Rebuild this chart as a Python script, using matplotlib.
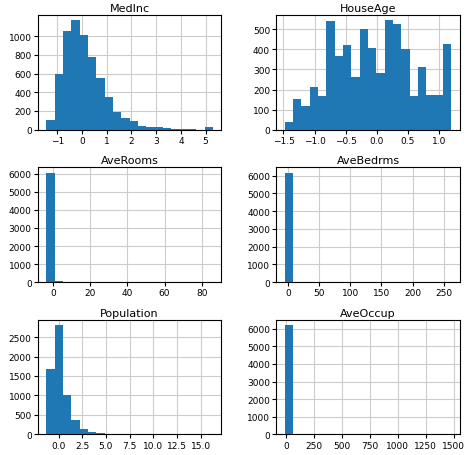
import numpy as np
import matplotlib.pyplot as plt

titles = ["MedInc", "HouseAge", "AveRooms", "AveBedrms", "Population", "AveOccup"]
ranges = [(-1.45, 5.3), (-1.48, 1.2), (-3.5, 86), (-5, 262), (-1.3, 16.3), (-10, 1480)]
counts = [
    [100, 600, 1060, 1170, 1010, 780, 550, 350, 190, 120, 95, 35, 25, 30, 15, 10, 8, 5, 0, 25],
    [40, 155, 120, 215, 170, 540, 365, 420, 265, 500, 405, 280, 545, 525, 400, 170, 310, 175, 175, 425],
    [6060, 80, 20, 10, 6, 5, 3, 2, 2, 1, 1, 0, 0, 0, 0, 0, 0, 0, 0, 2],
    [6150, 20, 8, 5, 3, 2, 1, 1, 0, 0, 2, 0, 0, 0, 0, 0, 0, 0, 0, 1],
    [1670, 2800, 1020, 380, 150, 70, 30, 15, 15, 10, 5, 3, 2, 1, 1, 0, 0, 0, 0, 1],
    [6190, 1, 0, 0, 0, 0, 0, 0, 0, 0, 0, 0, 0, 0, 0, 0, 0, 0, 0, 1],
]
xticks = [
    [-1, 0, 1, 2, 3, 4, 5],
    [-1.5, -1.0, -0.5, 0.0, 0.5, 1.0],
    [0, 20, 40, 60, 80],
    [0, 50, 100, 150, 200, 250],
    [0.0, 2.5, 5.0, 7.5, 10.0, 12.5, 15.0],
    [0, 250, 500, 750, 1000, 1250, 1500],
]
ysteps = [200, 100, 1000, 1000, 500, 1000]

plt.rcParams["font.size"] = 6.5
fig, axes = plt.subplots(3, 2, figsize=(4.74, 4.56), dpi=100)
for ax, title, rng, cnt, xt, ys in zip(axes.flat, titles, ranges, counts, xticks, ysteps):
    edges = np.linspace(rng[0], rng[1], len(cnt) + 1)
    ax.hist(edges[:-1], bins=edges, weights=cnt, color="#1f77b4")
    ax.set_title(title, fontsize=8, pad=3)
    ax.set_xticks(xt)
    ax.set_yticks(np.arange(0, max(cnt) + 1, ys))
    ax.grid(True, color="#cccccc", linewidth=0.8)
    ax.set_axisbelow(True)
    ax.tick_params(length=3, pad=1.5)
fig.subplots_adjust(left=0.08, right=0.97, top=0.965, bottom=0.045, wspace=0.3, hspace=0.33)
fig.savefig("out.png")
